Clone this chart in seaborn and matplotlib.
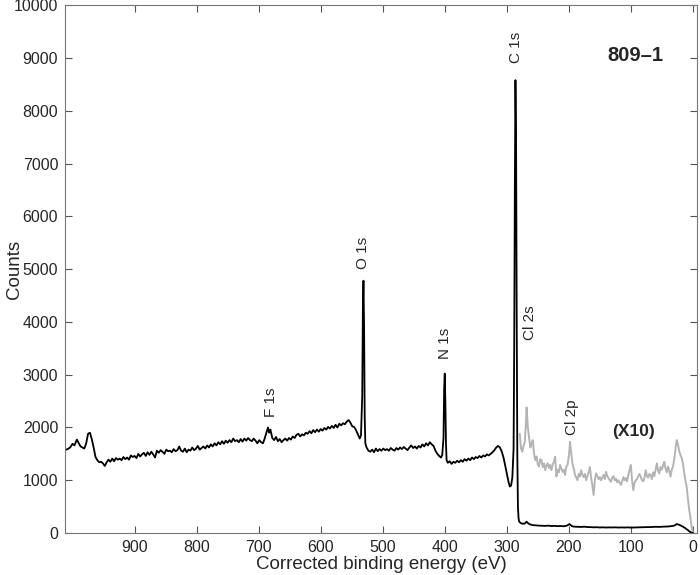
import numpy as np
import pandas as pd
import matplotlib
matplotlib.use("Agg")
import matplotlib.pyplot as plt
import seaborn as sns

# survey spectrum (binding energy in eV, counts)
energy = [
    1012, 1008, 1004, 1000, 997, 993, 990, 987, 984, 981, 978, 975, 972, 969, 966, 963, 960, 957,
    954, 951, 948, 945, 942, 939, 936, 933, 930, 927, 924, 921, 918, 915, 912, 909, 906, 903, 900,
    897, 894, 891, 888, 885, 882, 879, 876, 873, 870, 867, 864, 861, 858, 855, 852, 849, 846, 843,
    840, 837, 834, 831, 828, 825, 822, 819, 816, 813, 810, 807, 804, 801, 798, 795, 792, 789, 786,
    783, 780, 777, 774, 771, 768, 765, 762, 759, 756, 753, 750, 747, 744, 741, 738, 735, 732, 729,
    726, 723, 720, 717, 714, 711, 708, 705, 702, 699, 696, 693, 690, 687, 685, 683, 681, 678, 675,
    672, 669, 666, 663, 660, 657, 654, 651, 648, 645, 642, 639, 636, 633, 630, 627, 624, 621, 618,
    615, 612, 609, 606, 603, 600, 597, 594, 591, 588, 585, 582, 579, 576, 573, 570, 567, 564, 561,
    558, 555, 552, 549, 546, 543, 540, 537, 535, 533, 532, 531, 530, 529, 528, 526, 523, 520, 517,
    514, 511, 508, 505, 502, 499, 496, 493, 490, 487, 484, 481, 478, 475, 472, 469, 466, 463, 460,
    457, 454, 451, 448, 445, 442, 439, 436, 433, 430, 427, 424, 421, 418, 415, 412, 409, 406, 404,
    402, 401, 400, 399, 398, 397, 395, 392, 389, 386, 383, 380, 377, 374, 371, 368, 365, 362, 359,
    356, 353, 350, 347, 344, 341, 338, 335, 332, 329, 326, 323, 320, 317, 314, 311, 308, 305, 302,
    299, 297, 295, 293, 291, 289, 288, 287, 286, 285, 284, 283, 282, 281, 280, 277, 274, 271, 268,
    266, 263, 258, 253, 248, 243, 238, 233, 228, 223, 218, 213, 208, 203, 199, 197, 194, 190, 185,
    180, 175, 170, 165, 160, 155, 150, 145, 140, 135, 130, 125, 120, 115, 110, 105, 100, 95, 90,
    85, 80, 75, 70, 65, 60, 55, 50, 45, 40, 35, 30, 26, 23, 20, 16, 12, 8, 5, 2, 0,
]
counts = [
    1570, 1590, 1620, 1690, 1660, 1770, 1700, 1640, 1620, 1600, 1700, 1880, 1900, 1780, 1620, 1440, 1380, 1340,
    1350, 1320, 1270, 1340, 1390, 1350, 1410, 1360, 1420, 1390, 1410, 1380, 1440, 1400, 1430, 1390, 1470, 1440, 1460,
    1420, 1500, 1450, 1490, 1520, 1460, 1530, 1480, 1540, 1490, 1430, 1560, 1520, 1570, 1540, 1500, 1580, 1550, 1560,
    1530, 1590, 1550, 1570, 1640, 1560, 1540, 1600, 1530, 1580, 1560, 1620, 1570, 1600, 1650, 1580, 1610, 1640, 1600,
    1660, 1620, 1680, 1640, 1700, 1660, 1720, 1680, 1740, 1690, 1750, 1710, 1760, 1720, 1790, 1740, 1760, 1720, 1780,
    1730, 1790, 1750, 1800, 1760, 1740, 1790, 1750, 1700, 1760, 1720, 1700, 1800, 1920, 2000, 1900, 1960, 1800, 1760,
    1820, 1740, 1780, 1720, 1760, 1790, 1750, 1800, 1770, 1830, 1800, 1860, 1880, 1830, 1870, 1850, 1900, 1880, 1930,
    1890, 1950, 1910, 1960, 1920, 1970, 1940, 1990, 1960, 2010, 1980, 2030, 1990, 2050, 2000, 2070, 2040, 2080, 2060,
    2110, 2140, 2090, 2020, 2010, 1950, 1870, 1790, 1850, 2600, 4200, 4780, 3900, 2200, 1700, 1620, 1560, 1540, 1580,
    1530, 1600, 1550, 1590, 1560, 1600, 1570, 1590, 1560, 1610, 1580, 1560, 1610, 1580, 1620, 1590, 1630, 1600, 1570,
    1620, 1660, 1610, 1640, 1600, 1650, 1620, 1680, 1640, 1700, 1660, 1720, 1680, 1650, 1560, 1500, 1460, 1430, 1480,
    1800, 2700, 3020, 2500, 1700, 1380, 1330, 1360, 1310, 1350, 1330, 1370, 1340, 1380, 1350, 1400, 1370, 1410, 1380,
    1430, 1400, 1440, 1420, 1460, 1430, 1470, 1450, 1490, 1470, 1500, 1530, 1570, 1620, 1650, 1620, 1540, 1420, 1250,
    1080, 960, 880, 900, 1050, 1600, 3500, 6500, 8580, 7500, 4200, 1500, 500, 280, 215, 185, 175, 180, 215,
    190, 165, 150, 145, 140, 138, 135, 140, 132, 136, 130, 133, 128, 140, 170, 150, 125, 120, 118,
    115, 120, 113, 112, 108, 110, 105, 108, 104, 107, 105, 108, 104, 106, 104, 107, 103, 105, 106,
    108, 110, 112, 112, 115, 118, 116, 120, 122, 124, 130, 140, 170, 160, 145, 120, 90, 55, 25, 8, 2,
]

# low binding energy part magnified ten times (grey trace)
energy_x10 = [
    279, 277, 275, 273, 271, 269, 268, 266, 264, 262, 260, 258, 256, 254, 252, 250, 248, 246, 244, 242,
    240, 238, 236, 234, 232, 230, 228, 226, 224, 222, 220, 218, 216, 214, 212, 210, 208, 206, 204, 202,
    200, 198, 196, 194, 192, 190, 188, 186, 184, 182, 180, 178, 176, 174, 172, 170, 168, 166, 164, 162,
    160, 158, 156, 154, 152, 150, 148, 146, 144, 142, 140, 138, 136, 134, 132, 130, 128, 126, 124, 122,
    120, 118, 116, 114, 112, 110, 108, 106, 104, 102, 100, 98, 96, 94, 92, 90, 88, 86, 84, 82,
    80, 78, 76, 74, 72, 70, 68, 66, 64, 62, 60, 58, 56, 54, 52, 50, 48, 46, 44, 42,
    40, 38, 36, 34, 32, 30, 28, 26, 24, 22, 20, 18, 16, 14, 12, 10, 8, 6, 4, 2, 0,
]
counts_x10 = [
    1880, 1600, 1540, 1650, 1720, 2100, 2380, 2000, 1800, 1620, 1700, 1760, 1500, 1380, 1450, 1300, 1260, 1400, 1380, 1250,
    1320, 1190, 1280, 1320, 1230, 1290, 1190, 1300, 1350, 1445, 1070, 1200, 1150, 1290, 1220, 1160, 1200, 1100, 1260, 1290,
    1450, 1730, 1500, 1300, 1225, 1100, 1050, 1000, 1120, 1070, 1190, 1100, 1060, 1120, 1000, 1080, 1150, 1250, 1050, 900,
    720, 1000, 1130, 1080, 1020, 1060, 1000, 1050, 1100, 1020, 1160, 1080, 1040, 1000, 970, 1050, 1080, 1000, 1030, 960,
    1000, 950, 910, 980, 1060, 1000, 1040, 980, 1100, 1200, 1290, 1000, 810, 950, 1000, 1020, 1080, 1120, 1060, 1000,
    980, 1050, 1190, 1080, 1050, 1120, 1100, 1020, 1150, 1080, 1200, 1320, 1180, 1130, 1250, 1200, 1280, 1350, 1220, 1150,
    1260, 1180, 1070, 1200, 1260, 1400, 1600, 1760, 1680, 1550, 1480, 1420, 1320, 1150, 1000, 880, 650, 450, 300, 120, 25,
]

# peak labels: text, energy, bottom of the label in counts
peak_names = ["C 1s", "O 1s", "N 1s", "F 1s", "Cl 2s", "Cl 2p"]
peak_pos = [285, 531, 399, 680, 263, 195]
peak_y = [8900, 5000, 3300, 2200, 3650, 1850]

df = pd.DataFrame({"energy": energy, "counts": counts})
df10 = pd.DataFrame({"energy": energy_x10, "counts": counts_x10})

sns.set_style("ticks")
plt.rcParams["font.family"] = ["Liberation Sans", "DejaVu Sans"]

fig = plt.figure(figsize=(7, 5.75), dpi=100)
ax = fig.add_axes([0.093, 0.073, 0.903, 0.918])

sns.lineplot(data=df10, x="energy", y="counts", sort=False, estimator=None,
             color="#b4b4b4", linewidth=1.4, ax=ax)
sns.lineplot(data=df, x="energy", y="counts", sort=False, estimator=None,
             color="black", linewidth=1.3, ax=ax)

for name, xp, yp in zip(peak_names, peak_pos, peak_y):
    ax.text(xp, yp, name, rotation=90, ha="center", va="bottom", fontsize=11)

ax.text(0.902, 0.905, "809\u20131", transform=ax.transAxes, fontsize=14.5,
        fontweight="bold", ha="center", va="center")
ax.text(0.90, 0.193, "(X10)", transform=ax.transAxes, fontsize=12.5,
        fontweight="bold", ha="center", va="center")

ax.set_xlim(1012, -7)
ax.set_ylim(0, 10000)
ax.set_xticks(np.arange(0, 1000, 100))
ax.set_yticks(np.arange(0, 10001, 1000))
ax.tick_params(direction="in", top=True, right=True, labelsize=11.5, length=5,
               color="#555555", pad=5)
for sp in ax.spines.values():
    sp.set_color("#777777")
    sp.set_visible(True)
ax.set_xlabel("Corrected binding energy (eV)", fontsize=13.5, labelpad=1)
ax.set_ylabel("Counts", fontsize=13.5)
ax.yaxis.set_label_coords(-0.066, 0.5)

fig.savefig("out.png", dpi=100)
